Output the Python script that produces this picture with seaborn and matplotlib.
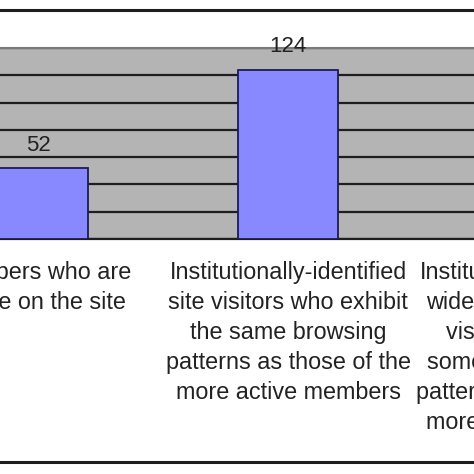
import matplotlib
matplotlib.use("Agg")
import matplotlib.pyplot as plt
import seaborn as sns
from matplotlib.patches import Rectangle

categories = [
    "Members who are\nactive on the site",
    "Institutionally-identified\nsite visitors who exhibit\nthe same browsing\npatterns as those of the\nmore active members",
    "Institutionally-identified\nwidely-distributed site\nvisitors who show\nsome of the browsing\npatterns as those of the\nmore active members",
]
values = [52, 124, 95]
y_ticks = [0, 20, 40, 60, 80, 100, 120, 140]

sns.set_style("white")
plt.rcParams["font.family"] = ["Liberation Sans", "DejaVu Sans"]

W = H = 474
fig = plt.figure(figsize=(4.74, 4.74), dpi=100)

# plot area is cropped: it runs past the left and right edges of the picture
left_px, right_px, top_px, bottom_px = -87, 663, 48, 239
ax = fig.add_axes([left_px / W, (H - bottom_px) / H,
                   (right_px - left_px) / W, (bottom_px - top_px) / H])
ax.set_facecolor("#b4b4b4")

sns.barplot(x=categories, y=values, color="#8888ff", width=0.4,
            edgecolor="#1c1c55", linewidth=1.3, saturation=1, ax=ax, zorder=3)

ax.set_xlim(-0.5, len(categories) - 0.5)
ax.set_ylim(0, 140)
ax.set_yticks(y_ticks)
ax.set_yticklabels([])
ax.tick_params(axis="y", length=0)
ax.grid(axis="y", color="#1e1e1e", linewidth=1.6, zorder=1)
ax.set_axisbelow(True)

for s in ["left", "right"]:
    ax.spines[s].set_visible(False)
ax.spines["top"].set_color("#7a7a7a")
ax.spines["top"].set_linewidth(1.5)
ax.spines["bottom"].set_color("#1e1e1e")
ax.spines["bottom"].set_linewidth(1.6)

ax.tick_params(axis="x", which="major", length=0, pad=16, labelsize=16.8,
               labelcolor="#222222")
for t in ax.get_xticklabels():
    t.set_linespacing(1.39)
    t.set_multialignment("center")
ax.set_xticks([i + 0.5 for i in range(len(categories) - 1)], minor=True)
ax.tick_params(axis="x", which="minor", length=6, width=1.3, color="#222222",
               direction="out")

ax.bar_label(ax.containers[0], padding=9, fontsize=16, color="#222222")
ax.set_xlabel("")
ax.set_ylabel("")

# outer chart border (cropped, only top and bottom edges visible)
fig.add_artist(Rectangle((-0.1, 12 / H), 1.2, (462 - 10) / H,
                         transform=fig.transFigure, fill=False,
                         edgecolor="#1e1e1e", linewidth=2.2))

fig.savefig("out.png", dpi=100)
